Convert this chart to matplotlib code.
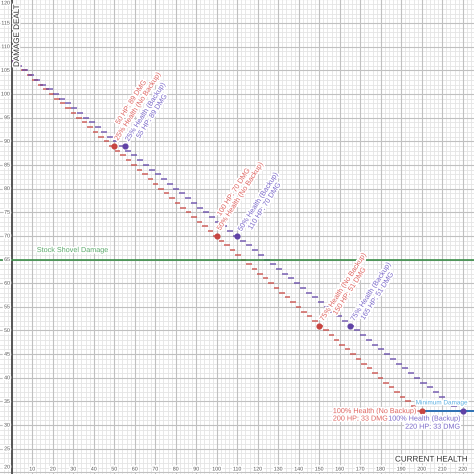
import matplotlib
matplotlib.use('Agg')
import matplotlib.pyplot as plt
import matplotlib.patheffects as pe
import numpy as np

# ---------------- data ----------------
damage_levels = [107, 106, 105, 104, 103, 102, 101, 100, 99, 98, 97, 96, 95, 94, 93, 92, 91, 90,
                 89, 88, 87, 86, 85, 84, 83, 82, 81, 80, 79, 78, 77, 76, 75, 74, 73, 72, 71, 70,
                 69, 68, 67, 66, 65, 64, 63, 62, 61, 60, 59, 58, 57, 56, 55, 54, 53, 52, 51, 50,
                 49, 48, 47, 46, 45, 44, 43, 42, 41, 40, 39, 38, 37, 36, 35, 34, 33]

# health at which each damage step begins/ends (No Backup, max 200 HP)
red_edges = [0, 2.01, 4.68, 7.36, 10.03, 12.71, 15.39, 18.06, 20.74, 23.41, 26.09, 28.76, 31.44,
             34.11, 36.79, 39.46, 42.14, 44.82, 47.49, 50.17, 52.84, 55.52, 58.19, 60.87, 63.55,
             66.22, 68.90, 71.57, 74.25, 76.92, 79.60, 82.27, 84.95, 87.63, 90.30, 92.98, 95.65,
             98.33, 101.00, 103.68, 106.35, 109.03, 111.71, 114.38, 117.06, 119.73, 122.41,
             125.08, 127.76, 130.43, 133.11, 135.79, 138.46, 141.14, 143.81, 146.49, 149.16,
             151.84, 154.52, 157.19, 159.87, 162.54, 165.22, 167.89, 170.57, 173.24, 175.92,
             178.60, 181.27, 183.95, 186.62, 189.30, 191.97, 194.65, 197.32, 200]

# (Backup, max 220 HP)
blue_edges = [0, 2.21, 5.15, 8.09, 11.04, 13.98, 16.92, 19.87, 22.81, 25.75, 28.70, 31.64, 34.58,
              37.53, 40.47, 43.41, 46.35, 49.30, 52.24, 55.18, 58.13, 61.07, 64.01, 66.96, 69.90,
              72.84, 75.79, 78.73, 81.67, 84.62, 87.56, 90.50, 93.45, 96.39, 99.33, 102.27,
              105.22, 108.16, 111.10, 114.05, 116.99, 119.93, 122.88, 125.82, 128.76, 131.71,
              134.65, 137.59, 140.54, 143.48, 146.42, 149.36, 152.31, 155.25, 158.19, 161.14,
              164.08, 167.02, 169.97, 172.91, 175.85, 178.80, 181.74, 184.68, 187.63, 190.57,
              193.51, 196.46, 199.40, 202.34, 205.28, 208.23, 211.17, 214.11, 217.06, 220]

red_hp = [50, 100, 150, 200]
blue_hp = [55, 110, 165, 220]
marker_dmg = [89, 70, 51, 33]
red_labels = ["50 HP: 89 DMG\n25% Health (No Backup)",
              "100 HP: 70 DMG\n50% Health (No Backup)",
              "75% Health (No Backup)\n150 HP: 51 DMG",
              "100% Health (No Backup)\n200 HP: 33 DMG"]
blue_labels = ["25% Health (Backup)\n55 HP: 89 DMG",
               "50% Health (Backup)\n110 HP: 70 DMG",
               "75% Health (Backup)\n165 HP: 51 DMG",
               "100% Health (Backup)\n220 HP: 33 DMG"]

stock_damage = 65
min_damage = 33
min_damage_start = 200

x_ticks = [10, 20, 30, 40, 50, 60, 70, 80, 90, 100, 110, 120, 130, 140, 150, 160, 170, 180,
           190, 200, 210, 220]
y_ticks = [20, 25, 30, 35, 40, 45, 50, 55, 60, 65, 70, 75, 80, 85, 90, 95, 100, 105, 110, 115, 120]

# ---------------- style ----------------
RED = '#c74440'
PURPLE = '#6042a6'
BLUE = '#2d70b3'
GREEN = '#388c46'
FONT = 'Liberation Sans'
halo = [pe.withStroke(linewidth=2.2, foreground='white')]

W = H = 474
fig = plt.figure(figsize=(4.74, 4.74), dpi=100)
ax = fig.add_axes([0, 0, 1, 1])
XL = (-5.76, 225.51)
YL = (19.66, 119.87)
ax.set_xlim(*XL)
ax.set_ylim(*YL)
ax.axis('off')

# grid
for x in np.arange(-4, 226, 2):
    major = (x % 10 == 0)
    ax.axvline(x, color='#c0c0c0' if major else '#e4e4e4', lw=0.8 if major else 0.6,
               zorder=0.5 if major else 0)
for y in np.arange(20, 121, 1):
    major = (y % 5 == 0)
    ax.axhline(y, color='#c0c0c0' if major else '#e4e4e4', lw=0.8 if major else 0.6,
               zorder=0.5 if major else 0)
# y axis
ax.axvline(0, color='#555555', lw=1.4, zorder=1)

# step dashes
ax.hlines(damage_levels, red_edges[:-1], red_edges[1:], color=RED, lw=1.3, alpha=0.7, zorder=2)
ax.hlines(damage_levels, blue_edges[:-1], blue_edges[1:], color=PURPLE, lw=1.3, alpha=0.7, zorder=2)

# reference lines
ax.axhline(stock_damage, color=GREEN, lw=1.3, alpha=0.9, zorder=3)
ax.plot([min_damage_start, XL[1]], [min_damage, min_damage], color=BLUE, lw=1.4, zorder=3)

# points
ax.plot(red_hp, marker_dmg, 'o', color=RED, ms=3.4, zorder=5)
ax.plot(blue_hp, marker_dmg, 'o', color=PURPLE, ms=3.4, zorder=5)

RT = '#dd6460'
PT = '#7a68c8'
ROT = 57.3
fs = 5.2
# rotated labels
red_offsets = [(-1, 8), (-1, 8), (6, 3)]
blue_offsets = [(6, 3), (6, 3), (6, 3)]
for i in range(3):
    ax.annotate(red_labels[i], (red_hp[i], marker_dmg[i]), xytext=red_offsets[i],
                textcoords='offset pixels', rotation=ROT, rotation_mode='anchor',
                ha='left', va='center', multialignment='center', color=RT, fontsize=fs,
                family=FONT, linespacing=1.15, zorder=6, path_effects=halo)
    ax.annotate(blue_labels[i], (blue_hp[i], marker_dmg[i]), xytext=blue_offsets[i],
                textcoords='offset pixels', rotation=ROT, rotation_mode='anchor',
                ha='left', va='center', multialignment='center', color=PT, fontsize=fs,
                family=FONT, linespacing=1.15, zorder=6, path_effects=halo)

# bottom (full-health) labels, one text per line
r1, r2 = red_labels[3].split('\n')
b1, b2 = blue_labels[3].split('\n')
t_r1 = ax.annotate(r1, (red_hp[3], marker_dmg[3]), xytext=(-5, -0.7),
                   textcoords='offset pixels', ha='right', va='center',
                   color=RT, fontsize=fs, family=FONT, zorder=6, path_effects=halo)
fig.canvas.draw()
bb = t_r1.get_window_extent()
pt_disp = ax.transData.transform((red_hp[3], marker_dmg[3]))
ax.annotate(r2, (red_hp[3], marker_dmg[3]), xytext=(bb.x0 - pt_disp[0], -8.2),
            textcoords='offset pixels', ha='left', va='center',
            color=RT, fontsize=fs, family=FONT, zorder=6, path_effects=halo)
ax.annotate(b1, (blue_hp[3], marker_dmg[3]), xytext=(-2, -8.2),
            textcoords='offset pixels', ha='right', va='center',
            color=PT, fontsize=fs, family=FONT, zorder=6, path_effects=halo)
ax.annotate(b2, (blue_hp[3], marker_dmg[3]), xytext=(-2.5, -16.3),
            textcoords='offset pixels', ha='right', va='center',
            color=PT, fontsize=fs, family=FONT, zorder=6, path_effects=halo)

ax.annotate('Minimum Damage', (min_damage_start, min_damage), xytext=(-6, 8),
            textcoords='offset pixels', ha='left', va='center', color='#5aaee0',
            fontsize=4.6, family=FONT, zorder=6, path_effects=halo)
ax.annotate('Stock Shovel Damage', (0, stock_damage), xytext=(25, 9),
            textcoords='offset pixels', ha='left', va='center', color='#5aa86a',
            fontsize=fs, family=FONT, zorder=6, path_effects=halo)

# tick labels (clamped to the visible area, like the original)
def ypx(v):
    return (YL[1] - v) / (YL[1] - YL[0]) * H

def xpx(v):
    return (v - XL[0]) / (XL[1] - XL[0]) * W

tfs = 3.8
for v in x_ticks:
    fig.text(xpx(v) / W, 1 - 469 / H, str(v), ha='center', va='center', fontsize=tfs,
             color='#555555', family=FONT, path_effects=halo, zorder=7)
for v in y_ticks:
    yp = min(max(ypx(v), 3), 467)
    fig.text(10 / W, 1 - yp / H, str(v), ha='right', va='center', fontsize=tfs,
             color='#555555', family=FONT, path_effects=halo, zorder=7)

# axis titles
fig.text(17.5 / W, 1 - 5 / H, 'DAMAGE DEALT', rotation=90, ha='center', va='top',
         fontsize=5.8, color='#333333', family=FONT, path_effects=halo, zorder=8)
fig.text(467 / W, 1 - 460 / H, 'CURRENT HEALTH', ha='right', va='center',
         fontsize=5.8, color='#333333', family=FONT, path_effects=halo, zorder=8)

fig.savefig('out.png', dpi=100)
